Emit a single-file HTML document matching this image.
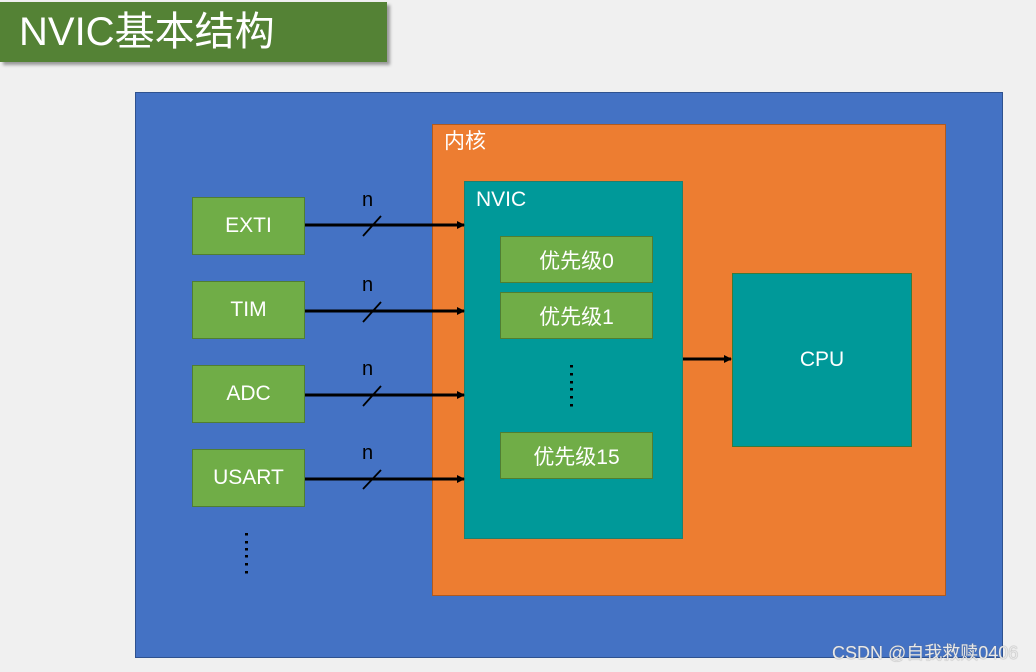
<!DOCTYPE html>
<html><head><meta charset="utf-8"><style>
body{margin:0;width:1036px;height:672px;background:#f0f0f0;position:relative;overflow:hidden;font-family:"Liberation Sans","Noto Sans CJK SC",sans-serif;}
.a{position:absolute;box-sizing:border-box;}
.g{background:#70ad47;border:1px solid #507e32;color:#fff;display:flex;align-items:center;justify-content:center;font-size:21px;}
</style></head><body>
<div class="a" style="left:0;top:2px;width:387px;height:60px;background:#548235;box-shadow:3px 3px 3px #999;"></div>
<div class="a" style="left:19px;top:6px;color:#fff;font-size:40px;line-height:52px;">NVIC基本结构</div>
<div class="a" style="left:135px;top:92px;width:868px;height:566px;background:#4472c4;border:1px solid #2f528f;"></div>
<div class="a" style="left:432px;top:124px;width:514px;height:472px;background:#ed7d31;border:1px solid #ae5a21;"></div>
<div class="a" style="left:444px;top:128px;color:#fff;font-size:21px;line-height:28px;">内核</div>
<div class="a" style="left:464px;top:181px;width:219px;height:358px;background:#009999;border:1px solid #1f7f6f;"></div>
<div class="a" style="left:476px;top:186px;color:#fff;font-size:21px;line-height:28px;">NVIC</div>
<div class="a g" style="left:500px;top:236px;width:153px;height:47px;">优先级0</div>
<div class="a g" style="left:500px;top:292px;width:153px;height:47px;">优先级1</div>
<div class="a g" style="left:500px;top:432px;width:153px;height:47px;">优先级15</div>
<div class="a" style="left:732px;top:273px;width:180px;height:174px;background:#009999;border:1px solid #3a7a3a;color:#fff;font-size:21px;display:flex;align-items:center;justify-content:center;">CPU</div>
<div class="a g" style="left:192px;top:197px;width:113px;height:58px;">EXTI</div>
<div class="a g" style="left:192px;top:281px;width:113px;height:58px;">TIM</div>
<div class="a g" style="left:192px;top:365px;width:113px;height:58px;">ADC</div>
<div class="a g" style="left:192px;top:449px;width:113px;height:58px;">USART</div>
<div class="a" style="left:362px;top:188px;font-size:20px;line-height:24px;">n</div>
<div class="a" style="left:362px;top:273px;font-size:20px;line-height:24px;">n</div>
<div class="a" style="left:362px;top:357px;font-size:20px;line-height:24px;">n</div>
<div class="a" style="left:362px;top:441px;font-size:20px;line-height:24px;">n</div>
<svg class="a" style="left:0;top:0" width="1036" height="672">
<defs><marker id="m" markerWidth="8" markerHeight="8" refX="7" refY="4" orient="auto" markerUnits="userSpaceOnUse"><path d="M0,0 L8,4 L0,8z" fill="#000"/></marker></defs>
<g stroke="#000" stroke-width="3" marker-end="url(#m)">
<line x1="305" y1="225" x2="464" y2="225"/>
<line x1="305" y1="311" x2="464" y2="311"/>
<line x1="305" y1="395" x2="464" y2="395"/>
<line x1="305" y1="479" x2="464" y2="479"/>
<line x1="683" y1="359" x2="731" y2="359"/>
</g>
<g stroke="#000" stroke-width="1.8">
<line x1="363" y1="236" x2="381" y2="216"/>
<line x1="363" y1="322" x2="381" y2="302"/>
<line x1="363" y1="406" x2="381" y2="386"/>
<line x1="363" y1="489" x2="381" y2="470"/>
</g>
<g fill="#000">
<rect x="570" y="365" width="3" height="2.5"/><rect x="570" y="373" width="3" height="2.5"/><rect x="570" y="381" width="3" height="2.5"/><rect x="570" y="388" width="3" height="2.5"/><rect x="570" y="396" width="3" height="2.5"/><rect x="570" y="404" width="3" height="2.5"/>
<rect x="245" y="533" width="3" height="2.5"/><rect x="245" y="541" width="3" height="2.5"/><rect x="245" y="548" width="3" height="2.5"/><rect x="245" y="555" width="3" height="2.5"/><rect x="245" y="563" width="3" height="2.5"/><rect x="245" y="571" width="3" height="2.5"/>
</g>
</svg>
<div class="a" style="left:832px;top:641px;color:#e8e8e8;font-size:18px;line-height:24px;text-shadow:0 0 1px #777;white-space:nowrap;">CSDN @自我救赎0406</div>
</body></html>
